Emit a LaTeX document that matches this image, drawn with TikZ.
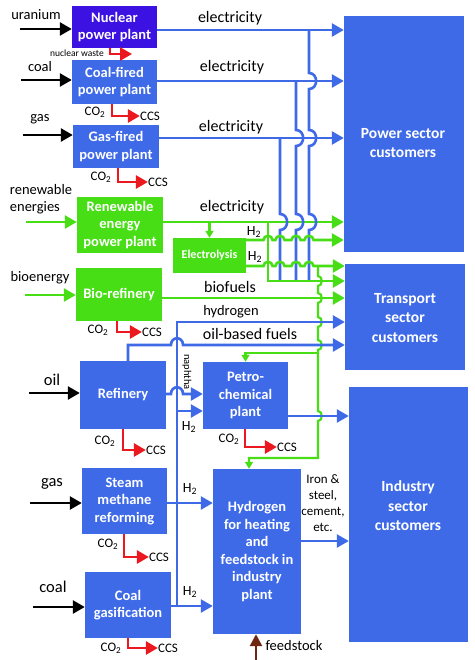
\documentclass[tikz,border=0pt]{standalone}
\usepackage{fontspec}
\setmainfont{Carlito}
\usetikzlibrary{arrows.meta}
\definecolor{plantblue}{RGB}{62,106,232}
\definecolor{nukeblue}{RGB}{60,18,226}
\definecolor{plantgreen}{RGB}{72,222,22}
\definecolor{ccsred}{RGB}{236,24,32}
\definecolor{feedbrown}{RGB}{112,38,18}
% line jumps: vertical line bulging right, horizontal line bulging up
\newcommand{\vjump}[2]{-- (#1,#2-8) .. controls (#1+9.5,#2-8) and (#1+9.5,#2+8) .. (#1,#2+8)}
\newcommand{\vnudge}[2]{-- (#1,#2-5) .. controls (#1+5,#2-5) and (#1+5,#2+5) .. (#1,#2+5)}
\newcommand{\hnudge}[2]{-- (#1-4.5,#2) .. controls (#1-4.5,#2-5.5) and (#1+4.5,#2-5.5) .. (#1+4.5,#2)}
\newcommand{\hjump}[2]{-- (#1-6,#2) .. controls (#1-6,#2-9) and (#1+6,#2-9) .. (#1+6,#2)}
\tikzset{
  plant/.style={fill=plantblue, text=white, align=center, inner sep=0pt,
    font=\bfseries\fontsize{14.5}{17.5}\selectfont},
  nukeplant/.style={plant, fill=nukeblue},
  greenplant/.style={plant, fill=plantgreen},
  sector/.style={fill=plantblue, inner sep=0pt},
  sectortext/.style={text=white, align=center, font=\bfseries\fontsize{15.5}{19.5}\selectfont},
  flowlbl/.style={font=\fontsize{16}{18}\selectfont, inner sep=0pt},
  inlbl/.style={font=\fontsize{14.5}{17}\selectfont, align=left, inner sep=0pt},
  biglbl/.style={font=\fontsize{16.5}{18}\selectfont, inner sep=0pt},
  smalllbl/.style={font=\fontsize{13}{15}\selectfont, inner sep=0pt},
  bline/.style={draw=plantblue, line width=2.6pt},
  bflow/.style={bline, -{Triangle[length=12pt,width=13pt]}},
  gline/.style={draw=plantgreen, line width=2.6pt},
  gflow/.style={gline, -{Triangle[length=12pt,width=13pt]}},
  gtip/.style={-{Triangle[length=7pt,width=8pt]}},
  inarrow/.style={draw=black, line width=2.6pt, -{Triangle[length=12pt,width=13pt]}},
  ccsarrow/.style={draw=ccsred, line width=2.6pt, -{Triangle[length=12pt,width=13pt]}},
  feedarrow/.style={draw=feedbrown, line width=2.6pt, -{Triangle[length=12pt,width=12pt]}}
}
\begin{document}
\begin{tikzpicture}[x=1pt,y=-1pt]
  \useasboundingbox[fill=white] (0,0) rectangle (474,660);

  % plants
  \node[nukeplant, minimum width=85pt, minimum height=42pt] (nuc) at (114.5,27) {Nuclear\\power plant};
  \node[plant, minimum width=85pt, minimum height=44pt] (coalpp) at (114.5,82) {Coal-fired\\power plant};
  \node[plant, minimum width=86pt, minimum height=43pt] (gaspp) at (116,146.5) {Gas-fired\\power plant};
  \node[greenplant, minimum width=86pt, minimum height=56pt] (renew) at (120,225) {Renewable\\energy\\power plant};
  \node[greenplant, minimum width=73pt, minimum height=35pt,
    font=\bfseries\fontsize{12}{14}\selectfont] (electro) at (209.5,255.5) {Electrolysis};
  \node[greenplant, minimum width=86pt, minimum height=53pt] (bioref) at (119,294.5) {Bio-refinery};
  \node[plant, minimum width=86pt, minimum height=68pt] (refin) at (123,395) {Refinery};
  \node[plant, minimum width=85pt, minimum height=67pt] (petro) at (245.5,395.5) {Petro-\\chemical\\plant};
  \node[plant, minimum width=85pt, minimum height=66pt] (smr) at (124.5,501) {Steam\\methane\\reforming};
  \node[plant, minimum width=86pt, minimum height=66pt] (cgas) at (128,605) {Coal\\gasification};
  \node[plant, minimum width=88pt, minimum height=165pt] (hplant) at (257,551.5)
    {Hydrogen\\for heating\\and\\feedstock in\\industry\\plant};

  % customers
  \node[sector, minimum width=120pt, minimum height=236pt] (psc) at (404,134) {};
  \node[sectortext] (psctxt) at (403,143) {Power sector\\customers};
  \node[sector, minimum width=120pt, minimum height=106pt] (tsc) at (405,317) {};
  \node[sectortext] (tsctxt) at (405,318) {Transport\\sector\\customers};
  \node[sector, minimum width=119pt, minimum height=255pt] (isc) at (408.5,514.5) {};
  \node[sectortext] (isctxt) at (408,506) {Industry\\sector\\customers};

  % inputs
  \node[inlbl] (uranium) at (36,15) {uranium};
  \node[inlbl] (coalin) at (40,67) {coal};
  \node[inlbl] (gasin) at (40,119) {gas};
  \node[inlbl] (renin) at (41,199.5) {renewable\\energies};
  \node[inlbl] (bioin) at (40,278) {bioenergy};
  \node[biglbl] (oilin) at (52,380) {oil};
  \node[biglbl] (gasin2) at (52,484) {gas};
  \node[biglbl] (coalin2) at (53,587) {coal};
  \draw[inarrow] (20,29) -- (nuc.west |- 0,29);
  \draw[inarrow] (21,80) -- (coalpp.west |- 0,80);
  \draw[inarrow] (23,135) -- (gaspp.west |- 0,135);
  \draw[inarrow, draw=plantgreen] (26,222) -- (renew.west |- 0,222);
  \draw[inarrow, draw=plantgreen] (25,295) -- (bioref.west |- 0,295);
  \draw[inarrow] (29,393) -- (refin.west |- 0,393);
  \draw[inarrow] (30,503) -- (smr.west |- 0,503);
  \draw[inarrow] (33,607) -- (cgas.west |- 0,607);

  % CO2 to CCS
  \node[font=\fontsize{9.5}{11}\selectfont, inner sep=0pt] (nwaste) at (77,53) {nuclear waste};
  \draw[ccsarrow] (nuc.south -| 110,0) |- (132,54);
  \node[smalllbl] (co2a) at (95,112) {CO\textsubscript{2}};
  \node[smalllbl] (ccsa) at (150,116) {CCS};
  \draw[ccsarrow] (coalpp.south -| 112,0) |- (ccsa.west);
  \node[smalllbl] (co2b) at (101,177) {CO\textsubscript{2}};
  \node[smalllbl] (ccsb) at (158,182) {CCS};
  \draw[ccsarrow] (gaspp.south -| 118,0) |- (ccsb.west);
  \node[smalllbl] (co2c) at (98,330) {CO\textsubscript{2}};
  \node[smalllbl] (ccsc) at (152,332) {CCS};
  \draw[ccsarrow] (bioref.south -| 117,0) |- (ccsc.west);
  \node[smalllbl] (co2d) at (105,441) {CO\textsubscript{2}};
  \node[smalllbl] (ccsd) at (156,450) {CCS};
  \draw[ccsarrow] (refin.south -| 123,0) |- (ccsd.west);
  \node[smalllbl] (co2e) at (229,439) {CO\textsubscript{2}};
  \node[smalllbl] (ccse) at (287,447) {CCS};
  \draw[ccsarrow] (petro.south -| 245,0) |- (ccse.west);
  \node[smalllbl] (co2f) at (108,544) {CO\textsubscript{2}};
  \node[smalllbl] (ccsf) at (159,557) {CCS};
  \draw[ccsarrow] (smr.south -| 124,0) |- (ccsf.west);
  \node[smalllbl] (co2g) at (111,648) {CO\textsubscript{2}};
  \node[smalllbl] (ccsg) at (168,648) {CCS};
  \draw[ccsarrow] (cgas.south -| 128,0) |- (ccsg.west);

  % electricity
  \draw[bflow] (nuc.east |- 0,30) -- (psc.west |- 0,30);
  \draw[bflow] (coalpp.east |- 0,81) -- (psc.west |- 0,81);
  \draw[bflow] (gaspp.east |- 0,138) -- (psc.west |- 0,138);
  \draw[gflow] (renew.east |- 0,222) -- (psc.west |- 0,222);
  \node[flowlbl] (el1) at (230,18) {electricity};
  \node[flowlbl] (el2) at (232,67) {electricity};
  \node[flowlbl] (el3) at (231,127) {electricity};
  \node[flowlbl] (el4) at (232,207) {electricity};
  \draw[bline] (309,30) \vjump{309}{81} \vjump{309}{138} \vjump{309}{222} -- (309,280);
  \draw[bline] (296,81) \vjump{296}{138} \vjump{296}{222} -- (296,280);
  \draw[bline] (280,138) \vjump{280}{222} -- (280,280);
  \draw[gline, gtip] (electro.north |- 0,222) -- (electro.north);
  \draw[gflow] (268,222) -- (268,281) -- (tsc.west |- 0,281);

  % hydrogen from electrolysis
  \draw[gflow] (electro.east |- 0,240) \hnudge{268}{240} \hnudge{280}{240} \hnudge{296}{240} \hnudge{309}{240}
    -- (psc.west |- 0,240);
  \draw[gflow] (electro.east |- 0,266) \hnudge{268}{266} \hnudge{280}{266} \hnudge{296}{266} \hnudge{309}{266}
    -- (tsc.west |- 0,266);
  \node[smalllbl, font=\fontsize{14}{16}\selectfont] (h2a) at (254,232) {H\textsubscript{2}};
  \node[smalllbl, font=\fontsize{14}{16}\selectfont] (h2b) at (255,257) {H\textsubscript{2}};
  \draw[gline, line width=2.2pt, gtip] (318,266) \vnudge{318}{281} \vnudge{318}{298} \vnudge{318}{322}
    \vnudge{318}{345} \vnudge{318}{416} -- (318,458) -| (hplant.north -| 249,0);
  \draw[gline, line width=2.2pt, gtip] (318,353) -| (petro.north);

  % fuels to transport
  \draw[gflow] (bioref.east |- 0,298) -- (tsc.west |- 0,298);
  \node[flowlbl] (biofuels) at (230,287) {biofuels};
  \draw[bflow] (cgas.east |- 0,606) -- (hplant.west |- 0,606);
  \draw[bflow] (smr.east |- 0,503) -- (hplant.west |- 0,503);
  \draw[bflow] (177,606) -- (177,322) -- (tsc.west |- 0,322);
  \node[flowlbl, font=\fontsize{14.5}{16}\selectfont] (hydrogen) at (231,312) {hydrogen};
  \draw[bflow] (refin.north -| 128,0) -- (128,345) \hjump{177}{345} -- (tsc.west |- 0,345);
  \node[flowlbl] (oilfuels) at (250,334) {oil-based fuels};

  % refinery and petrochemicals
  \draw[bflow] (refin.east |- 0,394) \hjump{177}{394} -- (petro.west |- 0,394);
  \node[font=\fontsize{10.5}{12}\selectfont, inner sep=0pt, rotate=-90] (naphtha) at (187,372) {naphtha};
  \draw[bflow] (177,411) -- (petro.west |- 0,411);
  \node[smalllbl, font=\fontsize{14}{16}\selectfont] (h2c) at (189,427) {H\textsubscript{2}};
  \draw[bflow] (petro.east |- 0,416) -- (isc.west |- 0,416);
  \node[smalllbl, font=\fontsize{14}{16}\selectfont] (h2d) at (190,489) {H\textsubscript{2}};
  \node[smalllbl, font=\fontsize{14}{16}\selectfont] (h2e) at (190,592) {H\textsubscript{2}};

  % industry
  \draw[bflow] (hplant.east |- 0,541) -- (isc.west |- 0,541);
  \node[smalllbl, align=center, font=\fontsize{13}{16}\selectfont] (iron) at (323,503) {Iron \&\\steel,\\cement,\\etc.};
  \node[inlbl] (feed) at (294,646) {feedstock};
  \draw[feedarrow] (256,662) -- (hplant.south -| 256,0);
\end{tikzpicture}
\end{document}
